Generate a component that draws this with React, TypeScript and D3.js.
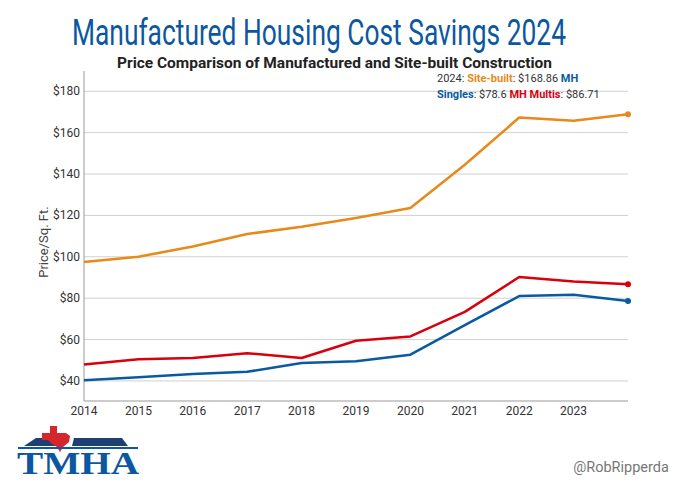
import * as d3 from "d3";

const years = [2014, 2015, 2016, 2017, 2018, 2019, 2020, 2021, 2022, 2023, 2024];
const siteBuilt = [97.5, 100, 105, 111, 114.5, 118.8, 123.6, 144.5, 167.3, 165.8, 168.86];
const mhMultis = [47.9, 50.5, 51.1, 53.4, 51.1, 59.4, 61.5, 73.4, 90.2, 88.1, 86.71];
const mhSingles = [40.3, 41.8, 43.4, 44.4, 48.7, 49.5, 52.7, 67, 81, 81.6, 78.6];
const yTicks = [40, 60, 80, 100, 120, 140, 160, 180];
const xTickYears = [2014, 2015, 2016, 2017, 2018, 2019, 2020, 2021, 2022, 2023];

const W = 688;
const H = 485;
const left = 84;
const right = 628;
const top = 71;
const bottom = 401;

const ORANGE = "#e8891a";
const RED = "#d9000d";
const BLUE = "#0a5aa0";

export default function App() {
  const x = d3.scaleLinear().domain([2014, 2024]).range([left, right]);
  const y = d3.scaleLinear().domain([30.3, 189.8]).range([bottom, top]);
  const line = d3
    .line<number>()
    .x((_, i) => x(years[i]))
    .y((d) => y(d));

  const series = [
    { values: siteBuilt, color: ORANGE },
    { values: mhMultis, color: RED },
    { values: mhSingles, color: BLUE },
  ];

  const font = "Roboto, 'Liberation Sans', sans-serif";

  return (
    <svg width={W} height={H} style={{ position: "absolute", left: 0, top: 0, background: "#fff" }}>
      <text
        x={72}
        y={45}
        fill="#0b57a0"
        fontSize={36}
        fontFamily="Roboto, 'Liberation Sans', sans-serif"
        textLength={494}
        lengthAdjust="spacingAndGlyphs"
      >
        Manufactured Housing Cost Savings 2024
      </text>
      <text
        x={117}
        y={68}
        fontSize={14.5}
        fontWeight="bold"
        fill="#222"
        fontFamily={font}
        textLength={435}
        lengthAdjust="spacingAndGlyphs"
      >
        Price Comparison of Manufactured and Site-built Construction
      </text>

      {yTicks.map((t) => (
        <g key={t}>
          <line x1={left} x2={right} y1={y(t)} y2={y(t)} stroke="#d0d0d0" strokeWidth={1} />
          <text x={80} y={y(t) + 4} textAnchor="end" fontSize={12} fill="#333" fontFamily={font}>
            ${t}
          </text>
        </g>
      ))}
      <line x1={left} x2={left} y1={top} y2={bottom} stroke="#999" />
      <line x1={left} x2={right} y1={bottom} y2={bottom} stroke="#999" />
      {xTickYears.map((yr) => (
        <text key={yr} x={x(yr)} y={415} textAnchor="middle" fontSize={12} fill="#333" fontFamily={font}>
          {yr}
        </text>
      ))}
      <text
        transform={`translate(48,${(top + bottom) / 2 + 6}) rotate(-90)`}
        textAnchor="middle"
        fontSize={13}
        fill="#444"
        fontFamily={font}
      >
        Price/Sq. Ft.
      </text>

      {series.map((s, i) => (
        <g key={i}>
          <path d={line(s.values) ?? ""} fill="none" stroke={s.color} strokeWidth={2.5} strokeLinejoin="round" />
          <circle cx={x(2024)} cy={y(s.values[s.values.length - 1])} r={3} fill={s.color} />
        </g>
      ))}

      <text x={437} y={82} fontSize={11} fill="#333" fontFamily={font}>
        2024: <tspan fill={ORANGE} fontWeight="bold">Site-built</tspan>: $168.86{" "}
        <tspan fill={BLUE} fontWeight="bold">MH</tspan>
      </text>
      <text x={437} y={98} fontSize={11} fill="#333" fontFamily={font}>
        <tspan fill={BLUE} fontWeight="bold">Singles</tspan>: $78.6{" "}
        <tspan fill={RED} fontWeight="bold">MH Multis</tspan>: $86.71
      </text>

      {/* TMHA logo */}
      <g>
        <polygon points="24,446 36,438 62,438 58,446" fill="#1d3f73" />
        <polygon points="74,438 122,438 128,446 72,446" fill="#1d3f73" />
        <path
          d="M50,426 L57,426 L57,433 L66,433 L70,436 L69,442 L63,447 L60,452 L57,447 L52,444 L48,440 L42,440 L42,433 L50,433 Z"
          fill="#d7262b"
        />
        <rect x={18} y={447} width={120} height={2} fill="#0b57a0" />
        <text
          x={78}
          y={474}
          textAnchor="middle"
          fontSize={32}
          fontWeight="bold"
          fill="#0b57a0"
          fontFamily="'Liberation Serif', 'DejaVu Serif', serif"
          textLength={122}
          lengthAdjust="spacingAndGlyphs"
        >
          TMHA
        </text>
      </g>

      <text x={621} y={472} textAnchor="middle" fontSize={14.5} fill="#777" fontFamily={font}>
        @RobRipperda
      </text>
    </svg>
  );
}
